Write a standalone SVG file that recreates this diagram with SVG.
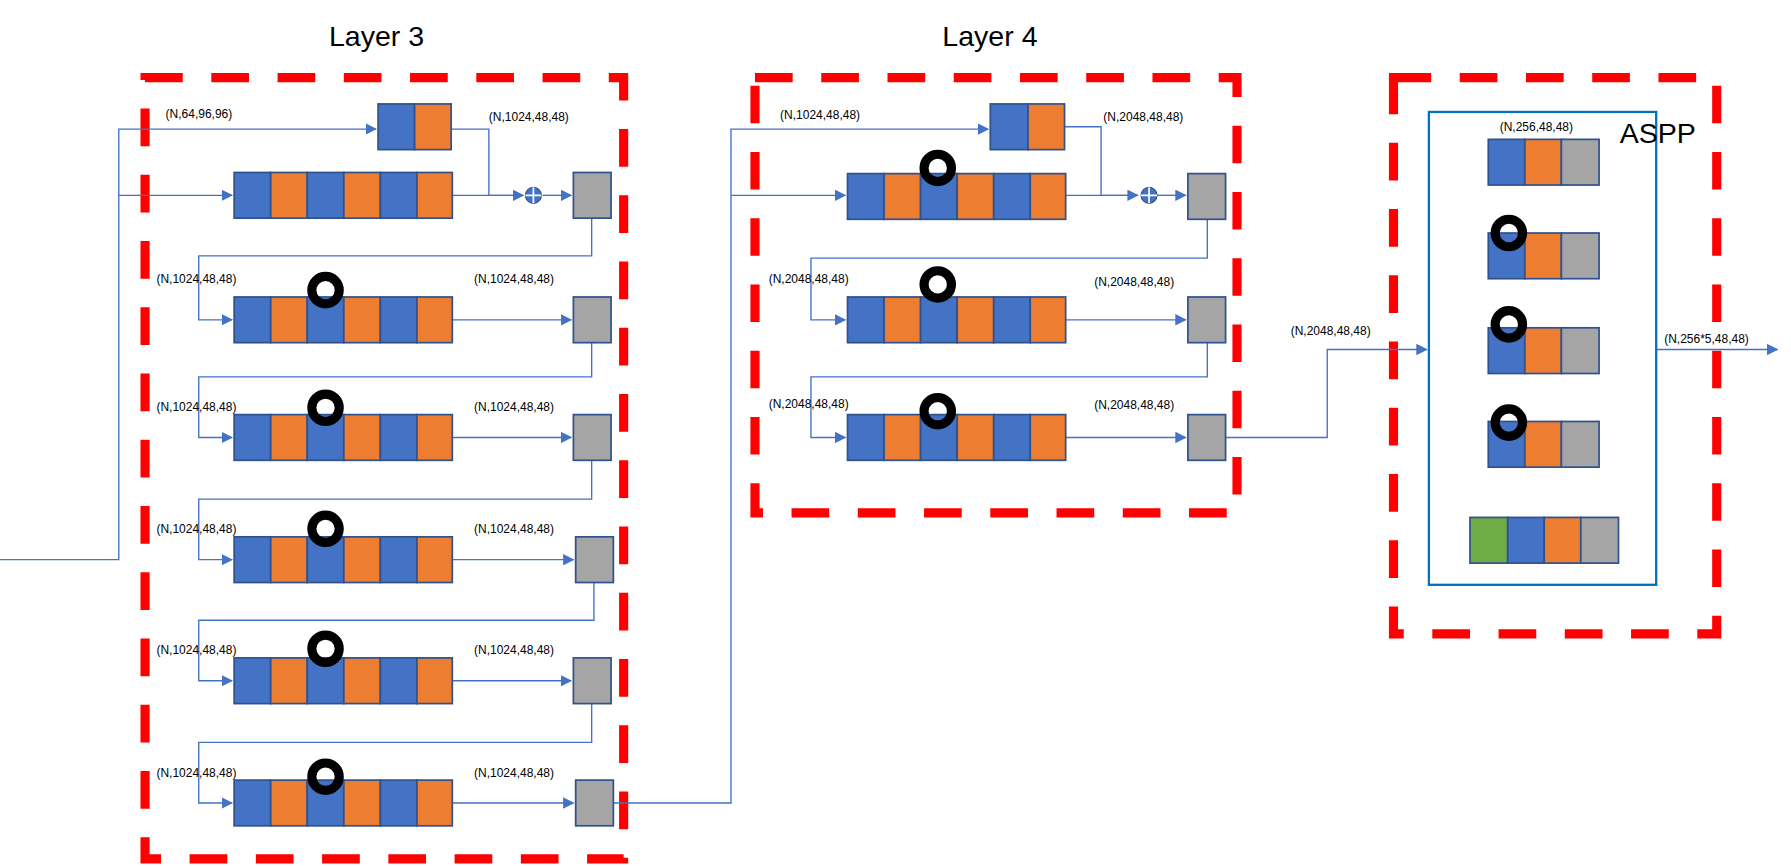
<svg xmlns="http://www.w3.org/2000/svg" xmlns:xlink="http://www.w3.org/1999/xlink" width="1791" height="866" viewBox="0 0 1791 866">
<style>
.b{fill:#4472C4;stroke:#2F528F;stroke-width:1.5}
.o{fill:#ED7D31;stroke:#2F528F;stroke-width:1.5}
.g{fill:#A5A5A5;stroke:#2F528F;stroke-width:1.5}
.gr{fill:#70AD47;stroke:#2F528F;stroke-width:1.5}
.c{fill:none;stroke:#4472C4;stroke-width:1.2}
.d{fill:none;stroke:#FF0000;stroke-width:8;stroke-dasharray:33 25}
.r{fill:none;stroke:#000;stroke-width:8}
.t{font-family:"Liberation Sans",Arial,sans-serif;font-size:10.5px;fill:#000}
.h{font-family:"Liberation Sans",Arial,sans-serif;font-size:25px;fill:#000}
</style>
<defs>
<marker id="a" markerWidth="10" markerHeight="10" refX="9" refY="5" orient="auto" markerUnits="userSpaceOnUse"><path d="M0,0 L10,5 L0,10 z" fill="#4472C4"/></marker>
<g id="six"><rect class="b" x="0" y="0" width="32" height="40"/><rect class="o" x="32" y="0" width="32" height="40"/><rect class="b" x="64" y="0" width="32" height="40"/><rect class="o" x="96" y="0" width="32" height="40"/><rect class="b" x="128" y="0" width="32" height="40"/><rect class="o" x="160" y="0" width="31" height="40"/></g>
<g id="three"><rect class="b" x="0" y="0" width="32" height="40"/><rect class="o" x="32" y="0" width="32" height="40"/><rect class="g" x="64" y="0" width="33" height="40"/></g>
<g id="plus"><circle r="7" fill="#4472C4" stroke="#2F528F"/><path d="M-7,0H7M0,-7V7" stroke="#fff" stroke-width="1.5"/></g>
</defs>
<g transform="scale(1.1422)">
<text class="h" x="288" y="40">Layer 3</text>
<text class="h" x="825" y="40">Layer 4</text>
<rect class="d" x="127" y="68" width="419" height="684"/>
<rect class="d" x="661" y="68" width="422" height="381"/>
<rect class="d" x="1220" y="68" width="283" height="487"/>

<g id="connectors">
<path class="c" d="M0,490H104V113H329" marker-end="url(#a)"/>
<path class="c" d="M104,171H203" marker-end="url(#a)"/>
<path class="c" d="M395,113H428V171H458" marker-end="url(#a)"/>
<path class="c" d="M396,171H458"/>
<path class="c" d="M475,171H500" marker-end="url(#a)"/>
<path class="c" d="M518,190V224H174V280H203" marker-end="url(#a)"/>
<path class="c" d="M396,280H500" marker-end="url(#a)"/>
<path class="c" d="M518,300V330H174V383H203" marker-end="url(#a)"/>
<path class="c" d="M396,383H500" marker-end="url(#a)"/>
<path class="c" d="M518,403V437H174V490H203" marker-end="url(#a)"/>
<path class="c" d="M396,490H502" marker-end="url(#a)"/>
<path class="c" d="M520,510V543H174V596H203" marker-end="url(#a)"/>
<path class="c" d="M396,596H500" marker-end="url(#a)"/>
<path class="c" d="M518,616V650H174V703H203" marker-end="url(#a)"/>
<path class="c" d="M396,703H502" marker-end="url(#a)"/>
<path class="c" d="M537,703H640V113H865" marker-end="url(#a)"/>
<path class="c" d="M640,171H740" marker-end="url(#a)"/>
<path class="c" d="M932,111H964V171H996" marker-end="url(#a)"/>
<path class="c" d="M933,171H996"/>
<path class="c" d="M1013,171H1038" marker-end="url(#a)"/>
<path class="c" d="M1057,192V226H710V280H740" marker-end="url(#a)"/>
<path class="c" d="M933,280H1038" marker-end="url(#a)"/>
<path class="c" d="M1057,300V330H710V383H740" marker-end="url(#a)"/>
<path class="c" d="M933,383H1038" marker-end="url(#a)"/>
<path class="c" d="M1073,383H1162V306H1249" marker-end="url(#a)"/>
<path class="c" d="M1450,306H1556" marker-end="url(#a)"/>
</g>

<g id="l3" class="t">
<text x="145" y="103">(N,64,96,96)</text>
<text x="428" y="106">(N,1024,48,48)</text>
<text x="137" y="248">(N,1024,48,48)</text><text x="415" y="248">(N,1024,48,48)</text>
<text x="137" y="360">(N,1024,48,48)</text><text x="415" y="360">(N,1024,48,48)</text>
<text x="137" y="467">(N,1024,48,48)</text><text x="415" y="467">(N,1024,48,48)</text>
<text x="137" y="573">(N,1024,48,48)</text><text x="415" y="573">(N,1024,48,48)</text>
<text x="137" y="680">(N,1024,48,48)</text><text x="415" y="680">(N,1024,48,48)</text>
</g>
<g id="l3n">
<rect class="b" x="331" y="91" width="32" height="40"/><rect class="o" x="363" y="91" width="32" height="40"/>
<use xlink:href="#six" x="205" y="151"/>
<use xlink:href="#plus" x="467" y="171"/>
<rect class="g" x="502" y="151" width="33" height="40"/>
<use xlink:href="#six" x="205" y="260"/><rect class="g" x="502" y="260" width="33" height="40"/><circle class="r" cx="285" cy="254" r="12"/>
<use xlink:href="#six" x="205" y="363"/><rect class="g" x="502" y="363" width="33" height="40"/><circle class="r" cx="285" cy="357" r="12"/>
<use xlink:href="#six" x="205" y="470"/><rect class="g" x="504" y="470" width="33" height="40"/><circle class="r" cx="285" cy="463" r="12"/>
<use xlink:href="#six" x="205" y="576"/><rect class="g" x="502" y="576" width="33" height="40"/><circle class="r" cx="285" cy="568" r="12"/>
<use xlink:href="#six" x="205" y="683"/><rect class="g" x="504" y="683" width="33" height="40"/><circle class="r" cx="285" cy="680" r="12"/>
</g>

<g id="l4" class="t">
<text x="683" y="104">(N,1024,48,48)</text>
<text x="966" y="106">(N,2048,48,48)</text>
<text x="673" y="248">(N,2048,48,48)</text><text x="958" y="250">(N,2048,48,48)</text>
<text x="673" y="357">(N,2048,48,48)</text><text x="958" y="358">(N,2048,48,48)</text>
<text x="1130" y="293">(N,2048,48,48)</text>
</g>
<g id="l4n">
<rect class="b" x="867" y="91" width="33" height="40"/><rect class="o" x="900" y="91" width="32" height="40"/>
<use xlink:href="#six" x="742" y="152"/><circle class="r" cx="821" cy="147" r="12"/>
<use xlink:href="#plus" x="1006" y="171"/>
<rect class="g" x="1040" y="152" width="33" height="40"/>
<use xlink:href="#six" x="742" y="260"/><rect class="g" x="1040" y="260" width="33" height="40"/><circle class="r" cx="821" cy="249" r="12"/>
<use xlink:href="#six" x="742" y="363"/><rect class="g" x="1040" y="363" width="33" height="40"/><circle class="r" cx="821" cy="360" r="12"/>
</g>

<g id="aspp">
<rect x="1251" y="98" width="199" height="414" fill="none" stroke="#0070C0" stroke-width="2"/>
<text class="h" x="1418" y="125">ASPP</text>
<text class="t" x="1313" y="115">(N,256,48,48)</text>
<text class="t" x="1457" y="300">(N,256*5,48,48)</text>
<use xlink:href="#three" x="1303" y="122"/>
<use xlink:href="#three" x="1303" y="204"/><circle class="r" cx="1321" cy="204" r="12"/>
<use xlink:href="#three" x="1303" y="287"/><circle class="r" cx="1321" cy="284" r="12"/>
<use xlink:href="#three" x="1303" y="369"/><circle class="r" cx="1321" cy="370" r="12"/>
<rect class="gr" x="1287" y="453" width="33" height="40"/><rect class="b" x="1320" y="453" width="32" height="40"/><rect class="o" x="1352" y="453" width="32" height="40"/><rect class="g" x="1384" y="453" width="33" height="40"/>
</g>
</g>
</svg>
